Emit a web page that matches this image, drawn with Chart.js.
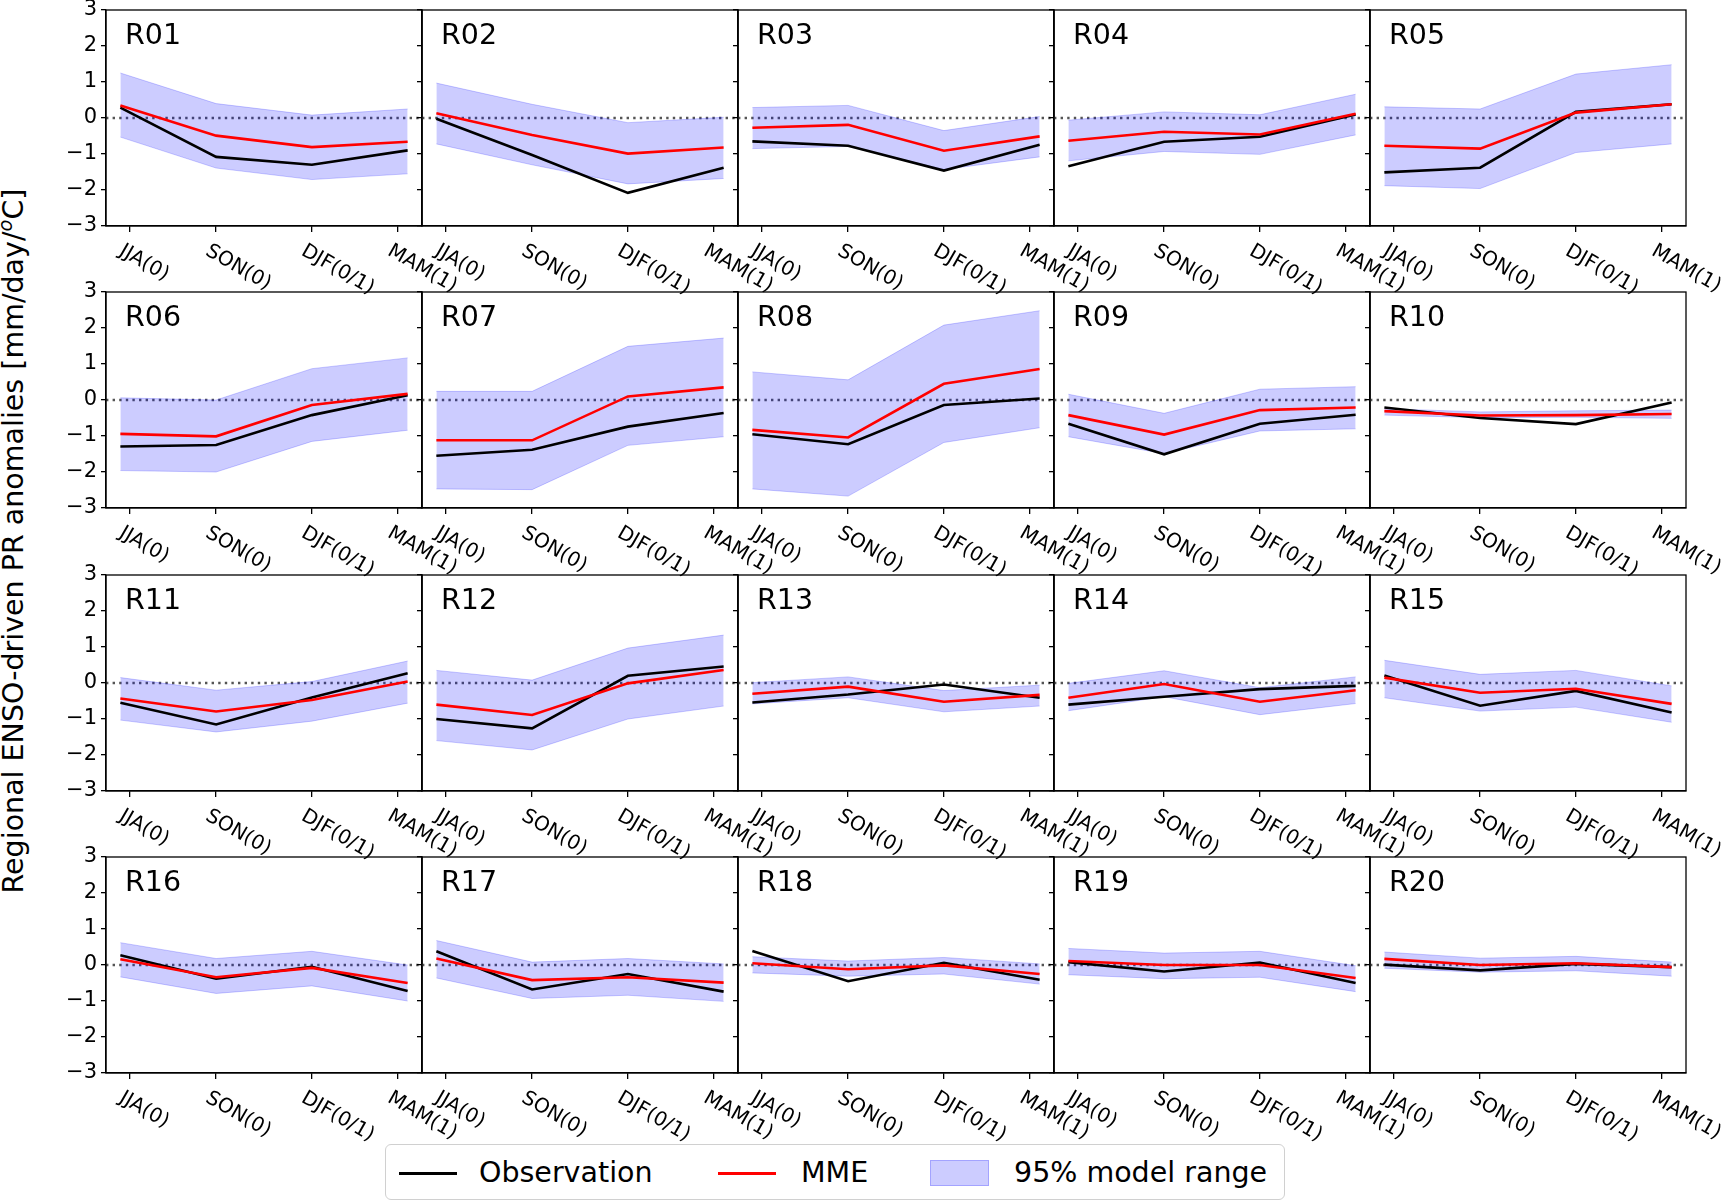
<!DOCTYPE html>
<html lang="en">
<head>
<meta charset="UTF-8">
<title>Regional ENSO-driven PR anomalies</title>
<script src="https://cdn.jsdelivr.net/npm/chart.js"></script>
<style>
  body { margin: 0; background: #fff; font-family: "DejaVu Sans", sans-serif; }
  #wrap { position: relative; width: 1725px; height: 1202px; overflow: hidden; }
  canvas.panel { position: absolute; }
  #ylabel {
    position: absolute; left: 13px; top: 541px; white-space: nowrap;
    font-size: 28.5px; color: #000;
    transform: translate(-50%, -50%) rotate(-90deg);
  }
  #ylabel sup { font-size: 0.68em; font-style: italic; vertical-align: 0.55em; line-height: 0; }
  #legend {
    position: absolute; left: 385px; top: 1144px; width: 898px; height: 54px;
    border: 1.3px solid #d0d0d0; border-radius: 6px; background: #fff;
  }
  #legend .ln { position: absolute; top: 27px; width: 58px; height: 2.6px; }
  #legend .patch { position: absolute; top: 15px; width: 57px; height: 24px;
    background: rgba(0, 0, 255, 0.2); border: 1px solid rgba(0, 0, 255, 0.2); }
  #legend .lt { position: absolute; top: 28px; font-size: 28.5px; line-height: 1;
    transform: translateY(-50%); color: #000; white-space: nowrap; }
</style>
</head>
<body>
<div id="wrap">
  <div id="ylabel">Regional ENSO-driven PR anomalies [mm/day/<sup>o</sup>C]</div>
  <div id="legend">
    <span class="ln" style="left:13px;background:#000"></span>
    <span class="lt" style="left:93px">Observation</span>
    <span class="ln" style="left:332px;background:#ff0000"></span>
    <span class="lt" style="left:415px">MME</span>
    <span class="patch" style="left:544px"></span>
    <span class="lt" style="left:628px">95% model range</span>
  </div>
</div>
<script>
const seasons = ["JJA(0)", "SON(0)", "DJF(0/1)", "MAM(1)"];
const seasonX = [0, 1, 2, 3];
const tickX = [0.1, 1, 2, 2.9];
const yTicks = [-3, -2, -1, 0, 1, 2, 3];
const regions = ["R01", "R02", "R03", "R04", "R05", "R06", "R07", "R08", "R09", "R10",
                 "R11", "R12", "R13", "R14", "R15", "R16", "R17", "R18", "R19", "R20"];

// observation
const obs = [
  [0.29, -1.08, -1.30, -0.90], [-0.02, -1.03, -2.08, -1.38], [-0.65, -0.77, -1.46, -0.74],
  [-1.34, -0.66, -0.52, 0.10], [-1.51, -1.38, 0.17, 0.38], [-1.29, -1.25, -0.42, 0.13],
  [-1.55, -1.38, -0.74, -0.36], [-0.95, -1.23, -0.14, 0.04], [-0.66, -1.51, -0.66, -0.41],
  [-0.21, -0.50, -0.67, -0.07], [-0.55, -1.15, -0.40, 0.27], [-1.00, -1.26, 0.20, 0.46],
  [-0.54, -0.32, -0.04, -0.41], [-0.60, -0.38, -0.17, -0.08], [0.21, -0.63, -0.22, -0.82],
  [0.27, -0.38, -0.05, -0.72], [0.38, -0.68, -0.25, -0.74], [0.39, -0.45, 0.06, -0.41],
  [0.08, -0.18, 0.07, -0.50], [0.01, -0.15, 0.03, -0.06]
];
// multi-model ensemble mean
const mme = [
  [0.35, -0.49, -0.81, -0.66], [0.13, -0.47, -0.99, -0.82], [-0.27, -0.19, -0.91, -0.51],
  [-0.63, -0.38, -0.46, 0.12], [-0.77, -0.85, 0.15, 0.38], [-0.94, -1.01, -0.14, 0.17],
  [-1.12, -1.12, 0.10, 0.35], [-0.83, -1.04, 0.45, 0.86], [-0.42, -0.96, -0.28, -0.21],
  [-0.31, -0.43, -0.42, -0.39], [-0.43, -0.79, -0.47, 0.04], [-0.60, -0.89, -0.01, 0.36],
  [-0.30, -0.10, -0.52, -0.33], [-0.41, -0.03, -0.52, -0.20], [0.15, -0.27, -0.16, -0.58],
  [0.16, -0.34, -0.08, -0.50], [0.18, -0.42, -0.34, -0.49], [0.05, -0.12, -0.01, -0.25],
  [0.11, 0.00, 0.00, -0.36], [0.17, 0.00, 0.05, -0.06]
];
// 95% model range, lower and upper bounds
const lower = [
  [-0.53, -1.39, -1.71, -1.55], [-0.72, -1.30, -1.83, -1.68], [-0.85, -0.79, -1.43, -1.08],
  [-1.19, -0.93, -1.01, -0.47], [-1.88, -1.96, -0.96, -0.72], [-1.96, -2.00, -1.15, -0.84],
  [-2.47, -2.49, -1.26, -1.02], [-2.47, -2.67, -1.18, -0.77], [-1.02, -1.49, -0.86, -0.80],
  [-0.42, -0.49, -0.48, -0.51], [-1.03, -1.36, -1.06, -0.56], [-1.60, -1.86, -1.00, -0.64],
  [-0.58, -0.41, -0.80, -0.64], [-0.77, -0.38, -0.88, -0.57], [-0.41, -0.78, -0.67, -1.09],
  [-0.33, -0.79, -0.58, -1.00], [-0.36, -0.93, -0.84, -1.01], [-0.22, -0.31, -0.25, -0.53],
  [-0.27, -0.38, -0.34, -0.74], [-0.09, -0.20, -0.16, -0.31]
];
const upper = [
  [1.25, 0.40, 0.08, 0.25], [0.97, 0.38, -0.13, 0.02], [0.29, 0.35, -0.35, 0.04],
  [-0.06, 0.17, 0.09, 0.66], [0.31, 0.25, 1.22, 1.48], [0.06, 0.00, 0.87, 1.17],
  [0.24, 0.24, 1.49, 1.72], [0.78, 0.56, 2.08, 2.48], [0.16, -0.37, 0.30, 0.37],
  [-0.24, -0.33, -0.30, -0.28], [0.15, -0.20, 0.04, 0.61], [0.35, 0.08, 0.97, 1.33],
  [0.01, 0.17, -0.21, -0.06], [-0.01, 0.34, -0.13, 0.17], [0.63, 0.24, 0.35, -0.08],
  [0.62, 0.18, 0.38, 0.00], [0.68, 0.08, 0.18, 0.03], [0.23, 0.11, 0.21, 0.03],
  [0.46, 0.33, 0.38, -0.02], [0.36, 0.19, 0.24, 0.08]
];

Chart.defaults.font.family = '"DejaVu Sans", sans-serif';
Chart.defaults.color = "#000";

// panel grid geometry
const PW = 316, PH = 216;
const colLeft = [106, 422, 738, 1054, 1370];
const rowTop = [10, 292, 575, 857];
const PAD_L = 70, PAD_T = 24, PAD_R = 75, PAD_B = 90;

const toPts = (vals) => vals.map((v, i) => ({ x: seasonX[i], y: v }));
const fmt = (v) => (v < 0 ? "\u2212" + Math.abs(v) : String(v));

const panelDeco = {
  id: "panelDeco",
  beforeDatasetsDraw(chart) {
    const { ctx, chartArea: a, scales: { y } } = chart;
    const y0 = y.getPixelForValue(0);
    ctx.save();
    ctx.strokeStyle = "#555";
    ctx.lineWidth = 2.4;
    ctx.setLineDash([2.4, 4.2]);
    ctx.beginPath();
    ctx.moveTo(a.left, y0);
    ctx.lineTo(a.right, y0);
    ctx.stroke();
    ctx.restore();
  },
  afterDraw(chart, args, opts) {
    const { ctx, chartArea: a, scales: { x } } = chart;
    ctx.save();
    ctx.strokeStyle = "#000";
    ctx.lineWidth = 1.3;
    ctx.strokeRect(a.left, a.top, a.right - a.left, a.bottom - a.top);
    ctx.fillStyle = "#000";
    ctx.font = '28.5px "DejaVu Sans"';
    ctx.textAlign = "left";
    ctx.textBaseline = "alphabetic";
    ctx.fillText(opts.title, a.left + 19, a.top + 34);
    ctx.font = '20px "DejaVu Sans"';
    ctx.textBaseline = "top";
    tickX.forEach((v, i) => {
      const px = x.getPixelForValue(v);
      ctx.save();
      ctx.translate(px - 4, a.bottom + 15);
      ctx.rotate(Math.PI / 6);
      ctx.fillText(seasons[i], 0, 0);
      ctx.restore();
    });
    ctx.restore();
  }
};

const wrap = document.getElementById("wrap");

regions.forEach((name, k) => {
  const col = k % 5, row = Math.floor(k / 5);
  const cv = document.createElement("canvas");
  cv.className = "panel";
  cv.width = PAD_L + PW + PAD_R;
  cv.height = PAD_T + PH + PAD_B;
  cv.style.left = (colLeft[col] - PAD_L) + "px";
  cv.style.top = (rowTop[row] - PAD_T) + "px";
  wrap.appendChild(cv);

  new Chart(cv.getContext("2d"), {
    type: "line",
    data: {
      datasets: [
        { label: "MME", data: toPts(mme[k]), borderColor: "#ff0000", borderWidth: 2.6 },
        { label: "Observation", data: toPts(obs[k]), borderColor: "#000000", borderWidth: 2.6 },
        { label: "upper", data: toPts(upper[k]), borderColor: "rgba(0,0,255,0.2)", borderWidth: 1,
          backgroundColor: "rgba(0,0,255,0.2)", fill: "+1" },
        { label: "lower", data: toPts(lower[k]), borderColor: "rgba(0,0,255,0.2)", borderWidth: 1,
          fill: false }
      ]
    },
    options: {
      responsive: false,
      animation: false,
      events: [],
      layout: { autoPadding: false, padding: { left: 0, top: PAD_T, right: PAD_R, bottom: 0 } },
      elements: { point: { radius: 0 }, line: { tension: 0 } },
      scales: {
        x: {
          type: "linear",
          min: -0.15,
          max: 3.15,
          afterBuildTicks: (s) => { s.ticks = tickX.map((v) => ({ value: v })); },
          afterFit: (s) => { s.height = PAD_B; },
          ticks: { display: false },
          grid: { drawOnChartArea: false, drawTicks: true, tickLength: 6, color: "#000", lineWidth: 1.3 },
          border: { display: true, color: "#000", width: 1.3 }
        },
        y: {
          min: -3,
          max: 3,
          afterBuildTicks: (s) => { s.ticks = yTicks.map((v) => ({ value: v })); },
          afterFit: (s) => { s.width = PAD_L; },
          ticks: { display: col === 0, padding: 4, font: { size: 21 }, callback: (v) => fmt(v) },
          grid: { drawOnChartArea: false, drawTicks: true, tickLength: 5, color: "#000", lineWidth: 1.3 },
          border: { display: true, color: "#000", width: 1.3 }
        }
      },
      plugins: {
        legend: { display: false },
        tooltip: { enabled: false },
        panelDeco: { title: name }
      }
    },
    plugins: [panelDeco]
  });
});
</script>
</body>
</html>
